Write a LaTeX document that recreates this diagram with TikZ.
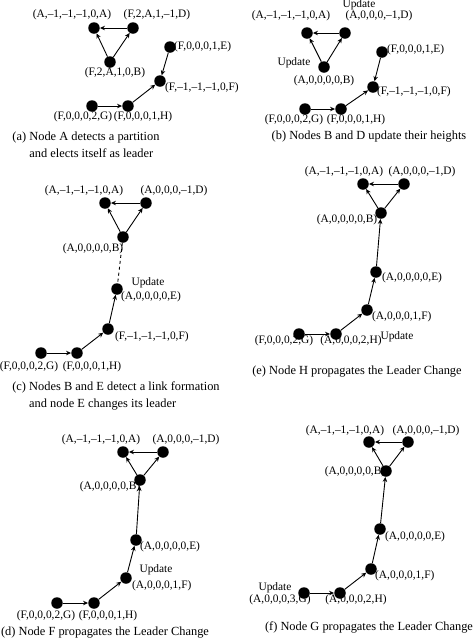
\documentclass[tikz,border=0pt]{standalone}
\usepackage{fontspec}
\setmainfont{Liberation Serif}
\usepackage{tikz}
\usetikzlibrary{arrows.meta}

\begin{document}
\begin{tikzpicture}[x=1pt,y=-1pt,
    dot/.style={circle,fill,inner sep=0pt,minimum size=11.5pt},
    lbl/.style={font=\fontsize{11.4}{13}\selectfont,inner sep=0pt},
    capt/.style={font=\fontsize{12.4}{17}\selectfont,inner sep=0pt,align=left},
    edge/.style={line width=0.9pt,-{Stealth[length=5pt,width=4.5pt]}}]
\useasboundingbox (0,0) rectangle (474,641);

% (a)
\begin{scope}[every node/.style={dot}]
    \node (aA) at (94,28) {};
    \node (aD) at (133,28) {};
    \node (aB) at (110,62) {};
    \node (aE) at (170,47) {};
    \node (aF) at (160,81) {};
    \node (aG) at (92,106) {};
    \node (aH) at (128,106) {};
\end{scope}
\begin{scope}[every node/.style={lbl}]
    \node (aAl) at (72,15) {(A,--1,--1,--1,0,A)};
    \node (aDl) at (157,15) {(F,2,A,1,--1,D)};
    \node (aBl) at (115,73) {(F,2,A,1,0,B)};
    \node[anchor=west] (aEl) at (174,47) {(F,0,0,0,1,E)};
    \node[anchor=west] (aFl) at (165,88) {(F,--1,--1,--1,0,F)};
    \node (aGl) at (83,117) {(F,0,0,0,2,G)};
    \node (aHl) at (143,117) {(F,0,0,0,1,H)};
\end{scope}
\node[capt] (acap) at (86,146) {(a) Node A detects a partition\\\phantom{(a) }and elects itself as leader};

\draw[edge] (aD) -- (aA);
\draw[edge] (aB) -- (aA);
\draw[edge] (aB) -- (aD);
\draw[edge] (aE) -- (aF);
\draw[edge] (aH) -- (aF);
\draw[edge] (aG) -- (aH);

% (b)
\begin{scope}[every node/.style={dot}]
    \node (bA) at (307,33) {};
    \node (bD) at (345,33) {};
    \node (bB) at (324,67) {};
    \node (bE) at (382,52) {};
    \node (bF) at (373,87) {};
    \node (bG) at (305,109) {};
    \node (bH) at (341,109) {};
\end{scope}
\begin{scope}[every node/.style={lbl}]
    \node (bDu) at (359,5) {Update};
    \node (bAl) at (291,16) {(A,--1,--1,--1,0,A)};
    \node (bDl) at (379,16) {(A,0,0,0,--1,D)};
    \node (bBu) at (294,63) {Update};
    \node (bBl) at (324,81) {(A,0,0,0,0,B)};
    \node[anchor=west] (bEl) at (387,50) {(F,0,0,0,1,E)};
    \node[anchor=west] (bFl) at (377,92) {(F,--1,--1,--1,0,F)};
    \node (bGl) at (294,120) {(F,0,0,0,2,G)};
    \node (bHl) at (356,120) {(F,0,0,0,1,H)};
\end{scope}
\node[capt] (bcap) at (369,137) {(b) Nodes B and D update their heights};

\draw[edge] (bD) -- (bA);
\draw[edge] (bB) -- (bA);
\draw[edge] (bB) -- (bD);
\draw[edge] (bE) -- (bF);
\draw[edge] (bH) -- (bF);
\draw[edge] (bG) -- (bH);

% (c)
\begin{scope}[every node/.style={dot}]
    \node (cA) at (105,203) {};
    \node (cD) at (146,203) {};
    \node (cB) at (123,237) {};
    \node (cE) at (117,289) {};
    \node (cF) at (108,329) {};
    \node (cG) at (41,353) {};
    \node (cH) at (77,353) {};
\end{scope}
\begin{scope}[every node/.style={lbl}]
    \node (cAl) at (84,191) {(A,--1,--1,--1,0,A)};
    \node (cDl) at (174,191) {(A,0,0,0,--1,D)};
    \node (cBl) at (93,249) {(A,0,0,0,0,B)};
    \node (cEu) at (148,283) {Update};
    \node (cEl) at (151,297) {(A,0,0,0,0,E)};
    \node[anchor=west] (cFl) at (115,337) {(F,--1,--1,--1,0,F)};
    \node (cGl) at (29,367) {(F,0,0,0,2,G)};
    \node (cHl) at (92,367) {(F,0,0,0,1,H)};
\end{scope}
\node[capt] (ccap) at (116,396) {(c) Nodes B and E detect a link formation\\\phantom{(c) }and node E changes its leader};

\draw[edge] (cD) -- (cA);
\draw[edge] (cB) -- (cA);
\draw[edge] (cB) -- (cD);
\draw[line width=0.9pt,dashed] (cB) -- (cE);
\draw[edge] (cF) -- (cE);
\draw[edge] (cH) -- (cF);
\draw[edge] (cG) -- (cH);

% (d)
\begin{scope}[every node/.style={dot}]
    \node (dA) at (123,452) {};
    \node (dD) at (163,452) {};
    \node (dB) at (140,480) {};
    \node (dE) at (136,540) {};
    \node (dF) at (126,578) {};
    \node (dG) at (57,603) {};
    \node (dH) at (94,603) {};
\end{scope}
\begin{scope}[every node/.style={lbl}]
    \node (dAl) at (101,440) {(A,--1,--1,--1,0,A)};
    \node (dDl) at (186,440) {(A,0,0,0,--1,D)};
    \node (dBl) at (110,487) {(A,0,0,0,0,B)};
    \node[anchor=west] (dEl) at (140,547) {(A,0,0,0,0,E)};
    \node (dFu) at (156,570) {Update};
    \node[anchor=west] (dFl) at (132,586) {(A,0,0,0,1,F)};
    \node (dGl) at (46,616) {(F,0,0,0,2,G)};
    \node (dHl) at (108,616) {(F,0,0,0,1,H)};
\end{scope}
\node[capt] (dcap) at (105,633) {(d) Node F propagates the Leader Change};

\draw[edge] (dD) -- (dA);
\draw[edge] (dB) -- (dA);
\draw[edge] (dB) -- (dD);
\draw[edge] (dE) -- (dB);
\draw[edge] (dF) -- (dE);
\draw[edge] (dH) -- (dF);
\draw[edge] (dG) -- (dH);

% (e)
\begin{scope}[every node/.style={dot}]
    \node (eA) at (363,184) {};
    \node (eD) at (404,184) {};
    \node (eB) at (381,213) {};
    \node (eE) at (376,272) {};
    \node (eF) at (367,310) {};
    \node (eG) at (299,334) {};
    \node (eH) at (336,334) {};
\end{scope}
\begin{scope}[every node/.style={lbl}]
    \node (eAl) at (344,172) {(A,--1,--1,--1,0,A)};
    \node (eDl) at (422,172) {(A,0,0,0,--1,D)};
    \node (eBl) at (347,220) {(A,0,0,0,0,B)};
    \node[anchor=west] (eEl) at (382,278) {(A,0,0,0,0,E)};
    \node[anchor=west] (eFl) at (372,317) {(A,0,0,0,1,F)};
    \node (eGl) at (284,341) {(F,0,0,0,2,G)};
    \node (eHl) at (351,341) {(A,0,0,0,2,H)};
    \node (eHu) at (397,337) {Update};
\end{scope}
\node[capt] (ecap) at (357,372) {(e) Node H propagates the Leader Change};

\draw[edge] (eD) -- (eA);
\draw[edge] (eB) -- (eA);
\draw[edge] (eB) -- (eD);
\draw[edge] (eE) -- (eB);
\draw[edge] (eF) -- (eE);
\draw[edge] (eH) -- (eF);
\draw[edge] (eG) -- (eH);

% (f)
\begin{scope}[every node/.style={dot}]
    \node (fA) at (369,442) {};
    \node (fD) at (408,442) {};
    \node (fB) at (386,471) {};
    \node (fE) at (380,529) {};
    \node (fF) at (371,569) {};
    \node (fG) at (304,593) {};
    \node (fH) at (340,593) {};
\end{scope}
\begin{scope}[every node/.style={lbl}]
    \node (fAl) at (345,431) {(A,--1,--1,--1,0,A)};
    \node (fDl) at (426,431) {(A,0,0,0,--1,D)};
    \node (fBl) at (355,472) {(A,0,0,0,0,B)};
    \node[anchor=west] (fEl) at (385,537) {(A,0,0,0,0,E)};
    \node[anchor=west] (fFl) at (375,576) {(A,0,0,0,1,F)};
    \node (fGu) at (275,588) {Update};
    \node (fGl) at (280,600) {(A,0,0,0,3,G)};
    \node (fHl) at (356,600) {(A,0,0,0,2,H)};
\end{scope}
\node[capt] (fcap) at (369,627) {(f) Node G propagates the Leader Change};

\draw[edge] (fD) -- (fA);
\draw[edge] (fB) -- (fA);
\draw[edge] (fB) -- (fD);
\draw[edge] (fE) -- (fB);
\draw[edge] (fF) -- (fE);
\draw[edge] (fH) -- (fF);
\draw[edge] (fG) -- (fH);
\end{tikzpicture}
\end{document}
